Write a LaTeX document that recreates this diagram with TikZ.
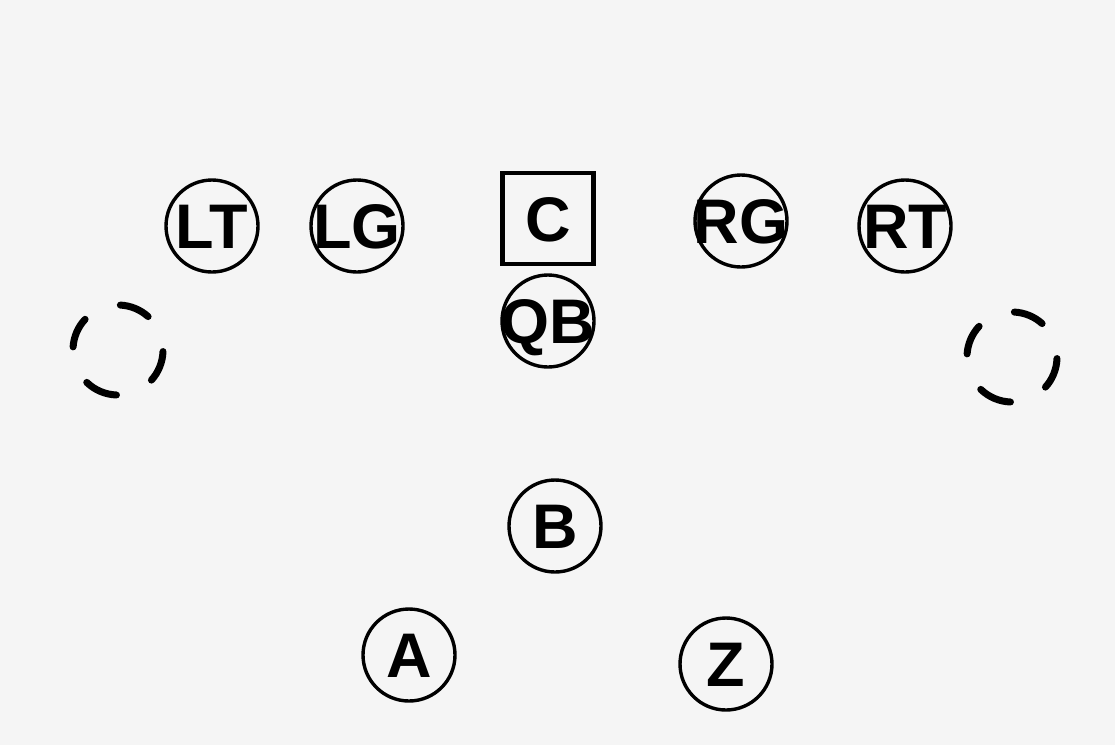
\documentclass[tikz,border=0pt]{standalone}
\usepackage{fontspec}
\setmainfont{Liberation Sans}
\usetikzlibrary{calc}
\definecolor{bg}{RGB}{245,245,245}
\begin{document}
\begin{tikzpicture}[x=1pt,y=1pt,
  lbl/.style={font=\fontsize{63}{63}\selectfont\bfseries, inner sep=0pt, text height=45pt, text depth=0pt},
  player/.style={circle, draw=black, line width=3.4pt, minimum size=92pt, inner sep=0pt},
  csquare/.style={rectangle, draw=black, line width=4.8pt, minimum size=91pt, inner sep=0pt},
  dashes/.style={line width=7pt, line cap=round, black}]
\fill[bg] (0,0) rectangle (1115,-745);
\useasboundingbox (0,0) rectangle (1115,-745);
\node[player, label={[lbl]center:LT}] (lt) at (212,-226) {};
\node[player, label={[lbl]center:LG}] (lg) at (357,-226) {};
\node[csquare, label={[lbl]center:C}] (c) at (548,-218.5) {};
\node[player, label={[lbl]center:QB}] (qb) at (548,-321) {};
\node[player, label={[lbl]center:RG}] (rg) at (741,-221) {};
\node[player, label={[lbl]center:RT}] (rt) at (905,-226) {};
\node[player, label={[lbl]center:B}] (b) at (555,-526) {};
\node[player, label={[lbl]center:A}] (a) at (409,-655) {};
\node[player, label={[lbl]center:Z}] (z) at (726,-664) {};
\coordinate (dl) at (118,-350);
\coordinate (dr) at (1012,-357);
\foreach \p in {dl,dr}{
  \foreach \s/\e in {48/87, -42/-2, -134/-92, 137/176}{
    \draw[dashes] ($(\p)+(\s:45)$) arc[start angle=\s, end angle=\e, radius=45];
  }
}
\end{tikzpicture}
\end{document}
